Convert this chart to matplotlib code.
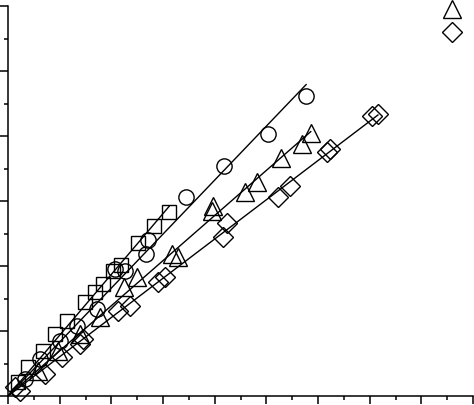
import numpy as np
import matplotlib
matplotlib.use("Agg")
import matplotlib.pyplot as plt
from matplotlib.lines import Line2D
from matplotlib.ticker import MultipleLocator, NullFormatter

# Data (axis units are arbitrary, tick labels cropped)
circle_x = [5.77, 5.03, 4.18, 3.44, 2.71, 2.67, 2.26, 2.07, 1.72, 1.34, 1.01, 0.62, 0.33]
circle_y = [4.62, 4.03, 3.54, 3.06, 2.40, 2.18, 1.92, 1.95, 1.34, 1.08, 0.85, 0.57, 0.26]

square_x = [3.12, 2.83, 2.52, 2.19, 2.03, 1.84, 1.68, 1.49, 1.14, 0.91, 0.68, 0.39, 0.19]
square_y = [2.83, 2.62, 2.35, 2.02, 1.92, 1.72, 1.60, 1.45, 1.15, 0.95, 0.69, 0.45, 0.22]

tri_x = [5.86, 5.69, 5.28, 4.82, 4.59, 3.97, 3.95, 3.29, 3.17, 2.50, 2.25, 1.78, 1.39, 0.97, 0.58]
tri_y = [4.05, 3.88, 3.66, 3.29, 3.14, 2.92, 2.85, 2.14, 2.18, 1.83, 1.68, 1.22, 0.95, 0.69, 0.38]

dia_x = [7.16, 7.04, 6.23, 6.17, 5.46, 5.23, 4.24, 4.16, 3.04, 2.90, 2.36, 2.13, 1.45, 1.39, 1.05, 0.72, 0.23, 0.14]
dia_y = [4.34, 4.31, 3.80, 3.75, 3.23, 3.06, 2.66, 2.45, 1.83, 1.75, 1.38, 1.31, 0.88, 0.80, 0.60, 0.34, 0.08, 0.14]

series = [
    (circle_x, circle_y, "o", 11),
    (square_x, square_y, "s", 10),
    (tri_x, tri_y, "^", 13),
    (dia_x, dia_y, "D", 10.5),
]

fig = plt.figure(figsize=(4.74, 4.06), dpi=100)
ax = fig.add_axes([8 / 474, 9 / 406, 465 / 474, 390 / 406])

for xs, ys, m, ms in series:
    xs = np.array(xs)
    ys = np.array(ys)
    # straight line through the origin fitted to each set
    k = np.sum(xs * ys) / np.sum(xs * xs)
    xl = np.array([0, xs.max()])
    ax.plot(xl, k * xl, color="black", lw=1.0, zorder=2)
    ax.plot(xs, ys, ls="none", marker=m, ms=ms, mfc="none", mec="black",
            mew=1.0, zorder=3, clip_on=False)

ax.set_xlim(0, 9)
ax.set_ylim(0, 6)
ax.xaxis.set_major_locator(MultipleLocator(1))
ax.xaxis.set_minor_locator(MultipleLocator(0.5))
ax.yaxis.set_major_locator(MultipleLocator(1))
ax.yaxis.set_minor_locator(MultipleLocator(0.5))
ax.xaxis.set_major_formatter(NullFormatter())
ax.yaxis.set_major_formatter(NullFormatter())
ax.tick_params(which="major", direction="out", length=6, width=1.1)
ax.tick_params(which="minor", direction="out", length=3, width=1.1)
for s in ["top", "right"]:
    ax.spines[s].set_visible(False)
for s in ["left", "bottom"]:
    ax.spines[s].set_linewidth(1.1)

handles = [
    Line2D([], [], ls="none", marker="^", ms=13, mfc="none", mec="black", mew=1.0),
    Line2D([], [], ls="none", marker="D", ms=10.5, mfc="none", mec="black", mew=1.0),
]
fig.legend(handles, [" ", " "], loc="upper left", bbox_to_anchor=(438 / 474, 1 + 3 / 406),
           frameon=False, borderpad=0, handlelength=1.0, handletextpad=0.2,
           labelspacing=0.65, fontsize=10)

fig.savefig("out.png", dpi=100)
